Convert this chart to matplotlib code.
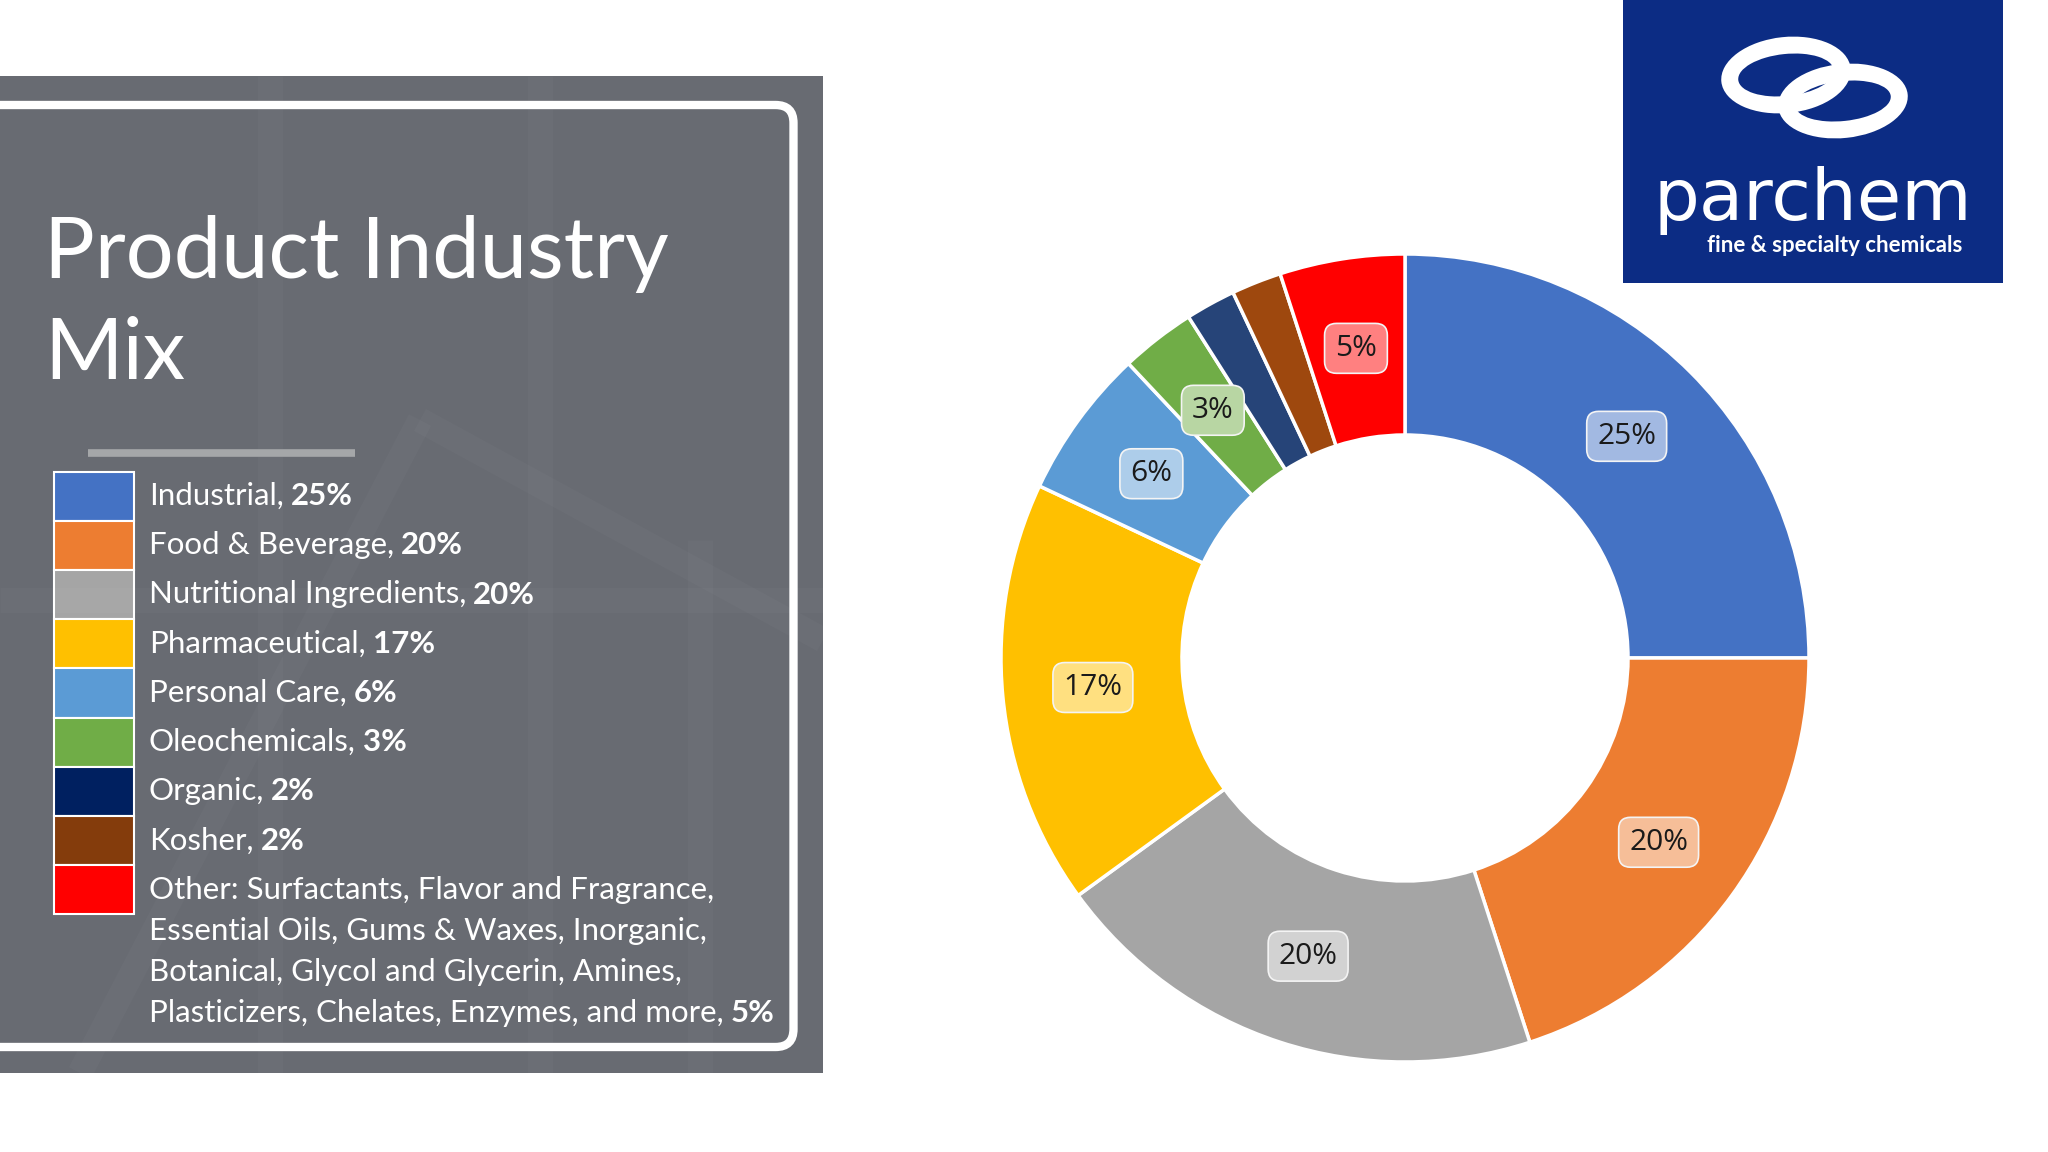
import matplotlib
matplotlib.use("Agg")
import numpy as np
import matplotlib.pyplot as plt
from matplotlib import patches
from matplotlib.colors import to_rgb

# chart data
industries = ["Industrial", "Food & Beverage", "Nutritional Ingredients", "Pharmaceutical",
              "Personal Care", "Oleochemicals", "Organic", "Kosher", "Other"]
shares = [25, 20, 20, 17, 6, 3, 2, 2, 5]
slice_colors = ["#4472C4", "#ED7D31", "#A5A5A5", "#FFC000", "#5B9BD5",
                "#70AD47", "#264478", "#9E480E", "#FF0000"]
legend_colors = ["#4472C4", "#ED7D31", "#A5A5A5", "#FFC000", "#5B9BD5",
                 "#70AD47", "#002060", "#843C0C", "#FF0000"]
other_lines = ["Other: Surfactants, Flavor and Fragrance,",
               "Essential Oils, Gums & Waxes, Inorganic,",
               "Botanical, Glycol and Glycerin, Amines,",
               "Plasticizers, Chelates, Enzymes, and more,"]

W, H = 2048, 1152
fig = plt.figure(figsize=(W / 100, H / 100), dpi=100)
fig.patch.set_facecolor("white")

# background axes in pixel coordinates
bg = fig.add_axes([0, 0, 1, 1])
bg.set_xlim(0, W)
bg.set_ylim(H, 0)
bg.axis("off")

# grey panel with a faint texture
bg.add_patch(patches.Rectangle((0, 76), 823, 997, facecolor="#686b72", edgecolor="none"))
for x0, y0, x1, y1 in [(270, 76, 270, 1073), (540, 76, 540, 1073), (0, 600, 823, 600),
                       (80, 1073, 420, 420), (420, 420, 823, 640), (700, 540, 700, 1073)]:
    bg.plot([x0, x1], [y0, y1], color="white", alpha=0.025, lw=18, solid_capstyle="butt")
bg.add_patch(patches.FancyBboxPatch((-40, 105), 833.5, 942,
                                    boxstyle="round,pad=0,rounding_size=18",
                                    facecolor="none", edgecolor="white", lw=6))

# title
tfont = dict(family="Lato", color="white", fontsize=61, fontweight="normal", va="baseline")
bg.text(44, 278, "Product Industry", **tfont)
bg.text(44, 379, "Mix", **tfont)
bg.plot([88, 355], [453, 453], color="#a5a7a9", lw=5.5, solid_capstyle="butt")

# legend
fig.canvas.draw()
renderer = fig.canvas.get_renderer()
row_top, row_h = 471.5, 49.2
lfont = dict(family="Lato", color="white", fontsize=22.5, va="center")
for i, (name, val) in enumerate(zip(industries, shares)):
    y = row_top + (i + 0.5) * row_h
    bg.add_patch(patches.Rectangle((54, row_top + i * row_h), 80, row_h,
                                   facecolor=legend_colors[i], edgecolor="white", lw=1.5))
    if name == "Other":
        lines = other_lines
    else:
        lines = [name + ","]
    for j, line in enumerate(lines):
        t = bg.text(149, y + j * 41, line, **lfont)
    bb = t.get_window_extent(renderer)
    bg.text(bb.x1 + 7, y + (len(lines) - 1) * 41, f"{val}%", fontweight="bold", **lfont)

# logo
bg.add_patch(patches.Rectangle((1623, 0), 380, 283, facecolor="#0c2c84", edgecolor="none"))
bg.add_patch(patches.Annulus((1786, 75), (65, 38), 17, angle=-6, facecolor="white", edgecolor="none"))
bg.add_patch(patches.Annulus((1843, 101), (65, 37), 17, angle=-6, facecolor="white", edgecolor="none"))
bg.text(1813, 220, "parchem", family="DejaVu Sans", fontsize=52, color="white",
        ha="center", va="baseline", fontweight="normal")
bg.text(1835, 252, "fine & specialty chemicals", family="Lato", fontsize=16, color="white",
        ha="center", va="baseline", fontweight="bold")

# donut chart
cx, cy, R = 1405, 658, 404
ax = fig.add_axes([(cx - R) / W, (H - cy - R) / H, 2 * R / W, 2 * R / H])
ring_w = 0.448
wedges, _ = ax.pie(shares, colors=slice_colors, startangle=90, counterclock=False, radius=1,
                   wedgeprops=dict(width=ring_w, edgecolor="white", linewidth=2.5))
ax.set_xlim(-1, 1)
ax.set_ylim(-1, 1)
ax.set_aspect("equal")
ax.axis("off")

r_lab = 1 - ring_w / 2
for w, val, col in zip(wedges, shares, slice_colors):
    if val < 3:
        continue
    ang = np.deg2rad((w.theta1 + w.theta2) / 2)
    box_col = 0.5 * np.array(to_rgb(col)) + 0.5
    ax.text(r_lab * np.cos(ang), r_lab * np.sin(ang), f"{val}%", family="Open Sans",
            fontsize=21.5, color="#1a1a1a", ha="center", va="center",
            bbox=dict(boxstyle="round,pad=0.35,rounding_size=0.4", facecolor=box_col,
                      edgecolor="#f4f4f4", lw=1.2))

fig.savefig("out.png", dpi=100)
